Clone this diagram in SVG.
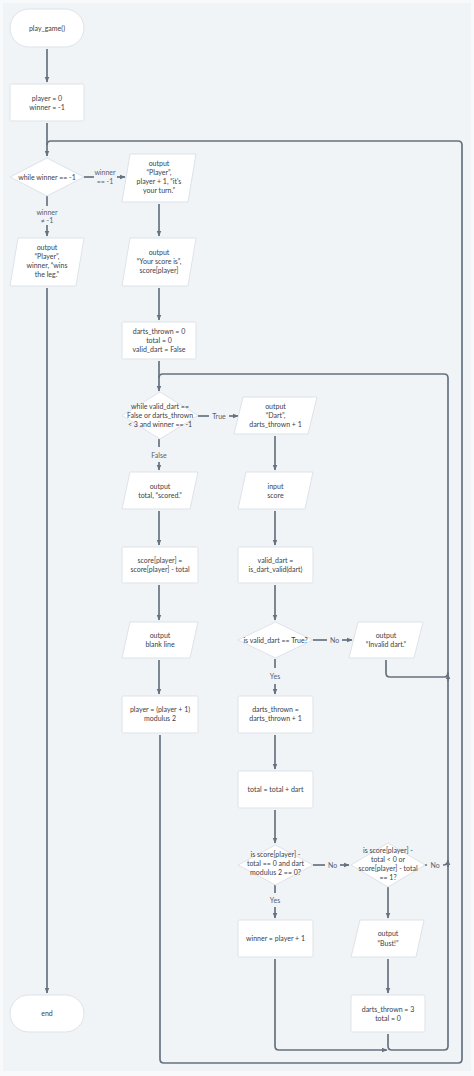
<svg xmlns="http://www.w3.org/2000/svg" width="474" height="1076" viewBox="0 0 474 1076">
<defs>
<marker id="ah" viewBox="0 0 10 10" refX="9" refY="5" markerWidth="6" markerHeight="6" orient="auto" markerUnits="userSpaceOnUse">
<path d="M0,1 L10,5 L0,9 z" fill="#66727f"/>
</marker>
<style>
.n{fill:#ffffff;stroke:#dde3e9;stroke-width:1}
.t{font-family:Lato,"Open Sans",sans-serif;font-size:7px;fill:#3b4047;text-anchor:middle}
.l{font-family:Lato,"Open Sans",sans-serif;font-size:7px;fill:#56606b;text-anchor:middle}
.c{fill:none;stroke:#66727f;stroke-width:1.7}
.a{marker-end:url(#ah)}
</style>
</defs>
<rect x="0" y="0" width="474" height="1076" fill="#f7f9fb"/>
<rect x="3" y="3" width="468" height="1068" fill="#f1f4f7"/>

<g id="connectors">
<path class="c a" d="M47,49 V82"/>
<path class="c a" d="M47,123 V156"/>
<path class="c" d="M160,735 V1059 Q160,1063 164,1063 H458 Q462,1063 462,1059 V145 Q462,141 458,141 H51 Q47,141 47,145"/>
<path class="c" d="M84,177 H94"/>
<path class="c a" d="M117,177 H125"/>
<path class="c" d="M47,196 V206"/>
<path class="c a" d="M47,225 V236"/>
<path class="c a" d="M47,288 V993"/>
<path class="c a" d="M159,204 V236"/>
<path class="c a" d="M159,288 V320"/>
<path class="c a" d="M159,361 V391"/>
<path class="c" d="M388,1034 V1046 Q388,1050 392,1050 H444 Q448,1050 448,1046 V378 Q448,374 444,374 H163 Q159,374 159,378"/>
<path class="c a" d="M275,959 V1046 Q275,1050 279,1050 H387"/>
<path class="c" d="M198,416 H209"/>
<path class="c a" d="M229,416 H238"/>
<path class="c" d="M159,439 V447"/>
<path class="c a" d="M159,462 V470"/>
<path class="c a" d="M159,511 V545"/>
<path class="c a" d="M159,585 V620"/>
<path class="c a" d="M159,660 V694"/>
<path class="c a" d="M275,436 V470"/>
<path class="c a" d="M275,511 V545"/>
<path class="c a" d="M275,585 V620"/>
<path class="c" d="M313,640 H327"/>
<path class="c a" d="M342,640 H352"/>
<path class="c" d="M386,660 V673 Q386,677 390,677 H444 Q448,677 448,672"/>
<path class="c a" d="M448,681 V674"/>
<path class="c" d="M275,659 V668"/>
<path class="c a" d="M275,684 V694"/>
<path class="c a" d="M275,735 V769"/>
<path class="c a" d="M275,810 V843"/>
<path class="c" d="M313,865 H325"/>
<path class="c a" d="M340,865 H349"/>
<path class="c" d="M425,865 H427"/>
<path class="c" d="M443,865 Q448,865 448,860"/>
<path class="c a" d="M448,867 V860"/>
<path class="c" d="M275,885 V893"/>
<path class="c a" d="M275,907 V918"/>
<path class="c a" d="M388,887 V918"/>
<path class="c a" d="M388,959 V993"/>
<text class="l" x="105" y="175">winner</text>
<text class="l" x="105" y="184">== -1</text>
<text class="l" x="47" y="215">winner</text>
<text class="l" x="47" y="223">≠ -1</text>
<text class="l" x="219" y="418.5">True</text>
<text class="l" x="159" y="458">False</text>
<text class="l" x="334.5" y="642.5">No</text>
<text class="l" x="275" y="679">Yes</text>
<text class="l" x="332.5" y="867.5">No</text>
<text class="l" x="435" y="867.5">No</text>
<text class="l" x="275" y="903">Yes</text>
</g>

<g id="start"><rect class="n" x="10" y="9" width="74" height="38" rx="19"/><text class="t" x="47" y="30.5">play_game()</text></g>
<g id="init"><rect class="n" x="10" y="84" width="74" height="37" rx="1.5"/><text class="t" x="47" y="101">player = 0</text><text class="t" x="47" y="110">winner = -1</text></g>
<g id="while_winner"><polygon class="n" points="47,158 84,177 47,196 10,177"/><text class="t" x="47" y="179.5">while winner == -1</text></g>
<g id="out_turn"><polygon class="n" points="130,154 196,154 188,202 122,202"/><text class="t" x="159" y="166">output</text><text class="t" x="159" y="175">“Player”,</text><text class="t" x="159" y="184">player + 1, “it's</text><text class="t" x="159" y="193">your turn.”</text></g>
<g id="out_wins"><polygon class="n" points="18,238 84,238 76,286 10,286"/><text class="t" x="47" y="250">output</text><text class="t" x="47" y="259">“Player”,</text><text class="t" x="47" y="268">winner, “wins</text><text class="t" x="47" y="277">the leg.”</text></g>
<g id="out_score"><polygon class="n" points="130,238 196,238 188,286 122,286"/><text class="t" x="159" y="255">output</text><text class="t" x="159" y="264">“Your score is”,</text><text class="t" x="159" y="273">score[player]</text></g>
<g id="end"><rect class="n" x="10" y="995" width="74" height="37" rx="18.5"/><text class="t" x="47" y="1016">end</text></g>
<g id="reset"><rect class="n" x="122" y="322" width="74" height="37" rx="1.5"/><text class="t" x="159" y="334">darts_thrown = 0</text><text class="t" x="159" y="343">total = 0</text><text class="t" x="159" y="352">valid_dart = False</text></g>
<g id="while_dart"><polygon class="n" points="160,392 198,415.5 160,439 122,415.5"/><text class="t" x="160" y="409">while valid_dart ==</text><text class="t" x="160" y="418">False or darts_thrown</text><text class="t" x="160" y="427">&lt; 3 and winner == -1</text></g>
<g id="out_dart"><polygon class="n" points="243,397 317,397 308,434 234,434"/><text class="t" x="275.5" y="409">output</text><text class="t" x="275.5" y="418">“Dart”,</text><text class="t" x="275.5" y="427">darts_thrown + 1</text></g>
<g id="out_scored"><polygon class="n" points="130,472 198,472 190,509 122,509"/><text class="t" x="160" y="489">output</text><text class="t" x="160" y="498">total, “scored.”</text></g>
<g id="in_score"><polygon class="n" points="246,472 313,472 305,509 238,509"/><text class="t" x="275.5" y="489">input</text><text class="t" x="275.5" y="498">score</text></g>
<g id="sub_score"><rect class="n" x="122" y="547" width="76" height="36" rx="1.5"/><text class="t" x="160" y="563">score[player] =</text><text class="t" x="160" y="572">score[player] - total</text></g>
<g id="valid"><rect class="n" x="238" y="547" width="75" height="36" rx="1.5"/><text class="t" x="275.5" y="563">valid_dart =</text><text class="t" x="275.5" y="572">is_dart_valid(dart)</text></g>
<g id="out_blank"><polygon class="n" points="130,622 198,622 190,658 122,658"/><text class="t" x="160" y="638">output</text><text class="t" x="160" y="647">blank line</text></g>
<g id="is_valid"><polygon class="n" points="275.5,622 313,640 275.5,658 238,640"/><text class="t" x="275.5" y="642.5">is valid_dart == True?</text></g>
<g id="out_invalid"><polygon class="n" points="358,622 423,622 414,658 349,658"/><text class="t" x="386" y="638">output</text><text class="t" x="386" y="647">“Invalid dart.”</text></g>
<g id="next_player"><rect class="n" x="122" y="696" width="76" height="37" rx="1.5"/><text class="t" x="160" y="712">player = (player + 1)</text><text class="t" x="160" y="721">modulus 2</text></g>
<g id="inc_darts"><rect class="n" x="238" y="696" width="75" height="37" rx="1.5"/><text class="t" x="275.5" y="712">darts_thrown =</text><text class="t" x="275.5" y="721">darts_thrown + 1</text></g>
<g id="add_total"><rect class="n" x="238" y="771" width="75" height="37" rx="1.5"/><text class="t" x="275.5" y="791.5">total = total + dart</text></g>
<g id="is_win"><polygon class="n" points="275.5,845 313,865 275.5,885 238,865"/><text class="t" x="275.5" y="857">is score[player] -</text><text class="t" x="275.5" y="866">total == 0 and dart</text><text class="t" x="275.5" y="875">modulus 2 == 0?</text></g>
<g id="is_bust"><polygon class="n" points="388,843 425,865 388,887 351,865"/><text class="t" x="388" y="853">is score[player] -</text><text class="t" x="388" y="862">total &lt; 0 or</text><text class="t" x="388" y="871">score[player] - total</text><text class="t" x="388" y="880">== 1?</text></g>
<g id="set_winner"><rect class="n" x="238" y="920" width="75" height="37" rx="1.5"/><text class="t" x="275.5" y="941">winner = player + 1</text></g>
<g id="out_bust"><polygon class="n" points="360,920 424,920 416,957 351,957"/><text class="t" x="388" y="936">output</text><text class="t" x="388" y="946">“Bust!”</text></g>
<g id="bust_reset"><rect class="n" x="351" y="995" width="74" height="37" rx="1.5"/><text class="t" x="388" y="1012">darts_thrown = 3</text><text class="t" x="388" y="1021">total = 0</text></g>
</svg>
